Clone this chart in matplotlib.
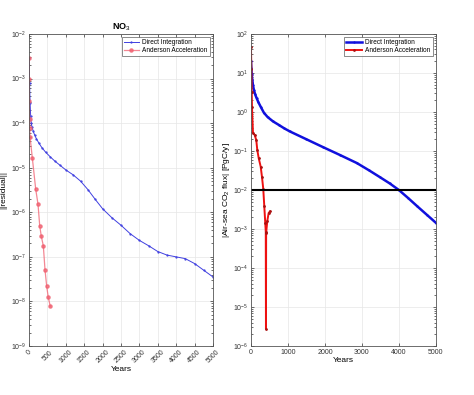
import numpy as np
import matplotlib
matplotlib.use('Agg')
import matplotlib.pyplot as plt
from matplotlib.ticker import LogLocator, NullFormatter

plt.rcParams['font.family'] = ['Liberation Sans', 'DejaVu Sans']
plt.rcParams['mathtext.fontset'] = 'custom'
plt.rcParams['mathtext.rm'] = 'Liberation Sans'

# left panel: NO3 residual (log10 values)
di_res_years = [0, 15, 30, 45, 60, 80, 110, 150, 200, 270, 350, 450, 570, 700, 850, 1000, 1200, 1400,
                1600, 1800, 2000, 2250, 2500, 2750, 3000, 3250, 3500, 3750, 4000, 4250, 4500, 4750, 5000]
di_res_log = [-2.54, -3.1, -3.55, -3.85, -4.0, -4.08, -4.17, -4.26, -4.35, -4.45, -4.55, -4.65, -4.75,
              -4.85, -4.95, -5.05, -5.16, -5.3, -5.49, -5.71, -5.92, -6.12, -6.29, -6.48, -6.63, -6.75,
              -6.88, -6.96, -7.0, -7.04, -7.15, -7.3, -7.45]

aa_res_years = [0, 5, 10, 15, 20, 27, 90, 182, 245, 291, 334, 389, 435, 481, 524, 579]
aa_res_log = [-2.54, -3.0, -3.5, -3.9, -4.1, -4.3, -4.78, -5.48, -5.82, -6.30, -6.54, -6.75, -7.29, -7.66, -7.91, -8.11]

# right panel: |air-sea CO2 flux|
di_flux_years = [0, 10, 20, 35, 55, 80, 110, 150, 200, 270, 350, 450, 594, 750, 900, 1054, 1500, 1946,
                 2400, 2865, 3200, 3486, 3750, 4000, 4243, 4500, 4750, 5000]
di_flux_log = [1.3, 1.12, 0.98, 0.82, 0.68, 0.56, 0.46, 0.36, 0.25, 0.12, -0.02, -0.13, -0.24, -0.33,
               -0.42, -0.5, -0.7, -0.9, -1.1, -1.31, -1.5, -1.67, -1.83, -2.0, -2.2, -2.42, -2.63, -2.84]

aa_flux_years = [0, 10, 20, 27, 54, 100, 143, 170, 208, 262, 297, 332, 360, 386, 400, 405, 410, 440, 478, 513]
aa_flux_log = [1.67, 1.1, 0.5, 0.14, -0.54, -0.59, -0.72, -0.97, -1.18, -1.4, -1.66, -1.97, -2.42, -2.84,
               -3.07, -5.56, -3.1, -2.8, -2.59, -2.55]

threshold = 1e-2

fig = plt.figure(figsize=(4.74, 3.95), dpi=100)
ax1 = fig.add_axes([0.0612, 0.124, 0.388, 0.790])
ax2 = fig.add_axes([0.5295, 0.124, 0.390, 0.790])

ax1.semilogy(di_res_years, 10 ** np.array(di_res_log), '.-', color='#4040e0', lw=0.7, ms=1.2,
             label='Direct Integration')
ax1.semilogy(aa_res_years, 10 ** np.array(aa_res_log), 'o-', color='#f06070', lw=0.9, ms=2.3,
             alpha=0.75, label='Anderson Acceleration')
ax1.set_xlim(0, 5000)
ax1.set_ylim(1e-9, 1e-2)
ax1.set_xticks(np.arange(0, 5001, 500))
ax1.set_xticklabels([str(v) for v in range(0, 5001, 500)], rotation=45)
ax1.set_title('NO$_3$', fontsize=6.5, fontweight='bold', pad=3)
ax1.set_xlabel('Years', fontsize=6, labelpad=1)
ax1.set_ylabel('||residual||', fontsize=6, labelpad=3)

ax2.semilogy(di_flux_years, 10 ** np.array(di_flux_log), '.-', color='#1010dd', lw=1.8, ms=1.2,
             label='Direct Integration')
ax2.semilogy(aa_flux_years, 10 ** np.array(aa_flux_log), '.-', color='#ee1111', lw=1.4, ms=2,
             mec='#aa1111', label='Anderson Acceleration')
ax2.axhline(threshold, color='black', lw=1.5)
ax2.set_xlim(0, 5000)
ax2.set_ylim(1e-6, 1e2)
ax2.set_xticks(np.arange(0, 5001, 1000))
ax2.set_xlabel('Years', fontsize=6, labelpad=1)
ax2.set_ylabel('|Air-sea CO$_2$ flux| [PgC/y]', fontsize=6, labelpad=1)

for ax in (ax1, ax2):
    ax.yaxis.set_major_locator(LogLocator(base=10, numticks=20))
    ax.yaxis.set_minor_locator(LogLocator(base=10, subs=np.arange(2, 10), numticks=20))
    ax.yaxis.set_minor_formatter(NullFormatter())
    ax.grid(True, which='major', color='#e6e6e6', lw=0.5)
    ax.set_axisbelow(True)
    ax.tick_params(direction='in', top=True, right=True, labelsize=5, length=2.5, width=0.5,
                   colors='#333333', pad=2)
    ax.tick_params(which='minor', direction='in', right=True, length=1.3, width=0.4)
    for s in ax.spines.values():
        s.set_color('#555555')
        s.set_linewidth(0.6)
    leg = ax.legend(loc='upper right', fontsize=4.7, frameon=True, fancybox=False,
                    borderpad=0.3, handlelength=2.4, handletextpad=0.5, labelspacing=0.2)
    leg.get_frame().set_edgecolor('#333333')
    leg.get_frame().set_linewidth(0.5)

fig.savefig('out.png', dpi=100)
